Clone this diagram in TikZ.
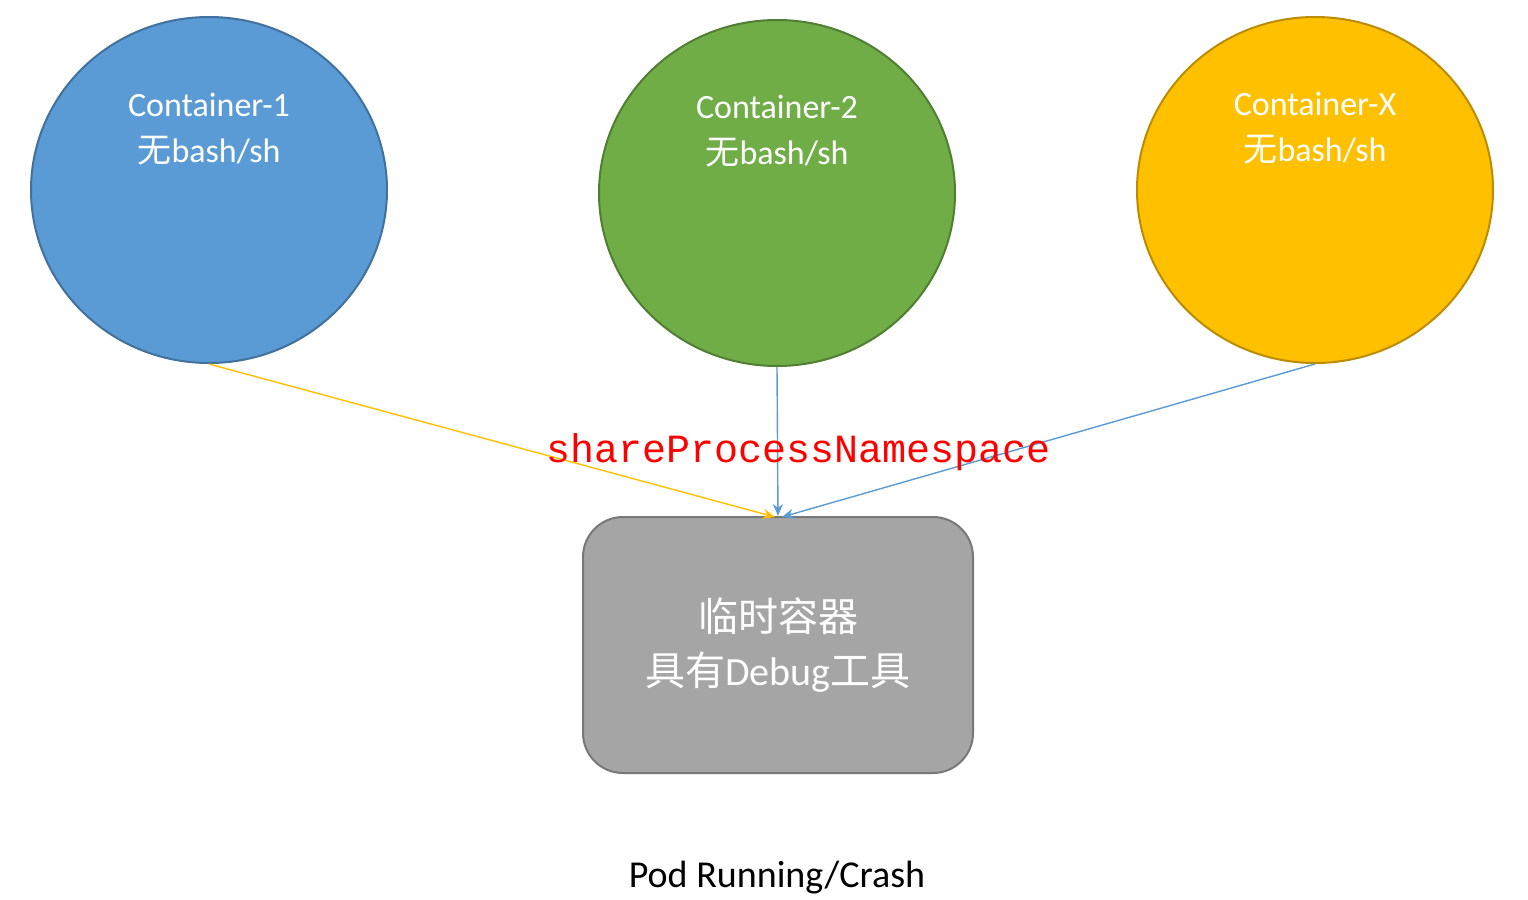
\documentclass[tikz,border=0pt]{standalone}
\usepackage{fontspec}
\setmainfont{Carlito}
\newfontfamily\cjk{Noto Sans CJK SC}
\newfontfamily\mono{Liberation Mono}
\usetikzlibrary{shapes.geometric,arrows.meta}
\definecolor{cblue}{HTML}{5B9BD5}\definecolor{cblueb}{HTML}{41719C}
\definecolor{cgreen}{HTML}{70AD47}\definecolor{cgreenb}{HTML}{507E32}
\definecolor{cyel}{HTML}{FFC000}\definecolor{cyelb}{HTML}{BC8C00}
\definecolor{cgray}{HTML}{A5A5A5}\definecolor{cgrayb}{HTML}{787878}
\begin{document}
\begin{tikzpicture}[x=0.5pt,y=-0.5pt,
  cont/.style={ellipse,draw,line width=1pt,minimum width=178pt,minimum height=173pt,text=white,font=\fontsize{17}{23}\selectfont,align=center,inner sep=0pt},
  arr/.style={-{Stealth[length=6pt,width=5pt]},line width=0.7pt}]
\fill[white] (0,0) rectangle (1528,900);
\useasboundingbox (0,0) rectangle (1528,900);
\node[cont,fill=cblue,draw=cblueb] (c1) at (209,190) {\raisebox{12pt}{}Container-1\\{\cjk 无}bash/sh\\[40pt]};
\node[cont,fill=cgreen,draw=cgreenb] (c2) at (777,193) {Container-2\\{\cjk 无}bash/sh\\[40pt]};
\node[cont,fill=cyel,draw=cyelb] (c3) at (1315,190) {Container-X\\{\cjk 无}bash/sh\\[40pt]};
\node[draw=cgrayb,fill=cgray,line width=1pt,rounded corners=20pt,minimum width=195pt,minimum height=128pt,text=white,align=center,font=\fontsize{20}{27}\selectfont] (d) at (778,645) {{\cjk 临时容器}\\{\cjk 具有}Debug{\cjk 工具}};
\coordinate (t1) at (775,517);
\coordinate (t3) at (782,517);
\draw[arr,cyel] (c1.south) -- (t1);
\draw[arr,cblue] (c2.south) -- (d.north);
\draw[arr,cblue] (c3.south) -- (t3);
\node[text=red,font=\mono\fontsize{20}{24}\selectfont] (sp) at (799,452) {shareProcessNamespace};
\node[font=\fontsize{19}{23}\selectfont] (pod) at (777,878) {Pod Running/Crash};
\end{tikzpicture}
\end{document}
